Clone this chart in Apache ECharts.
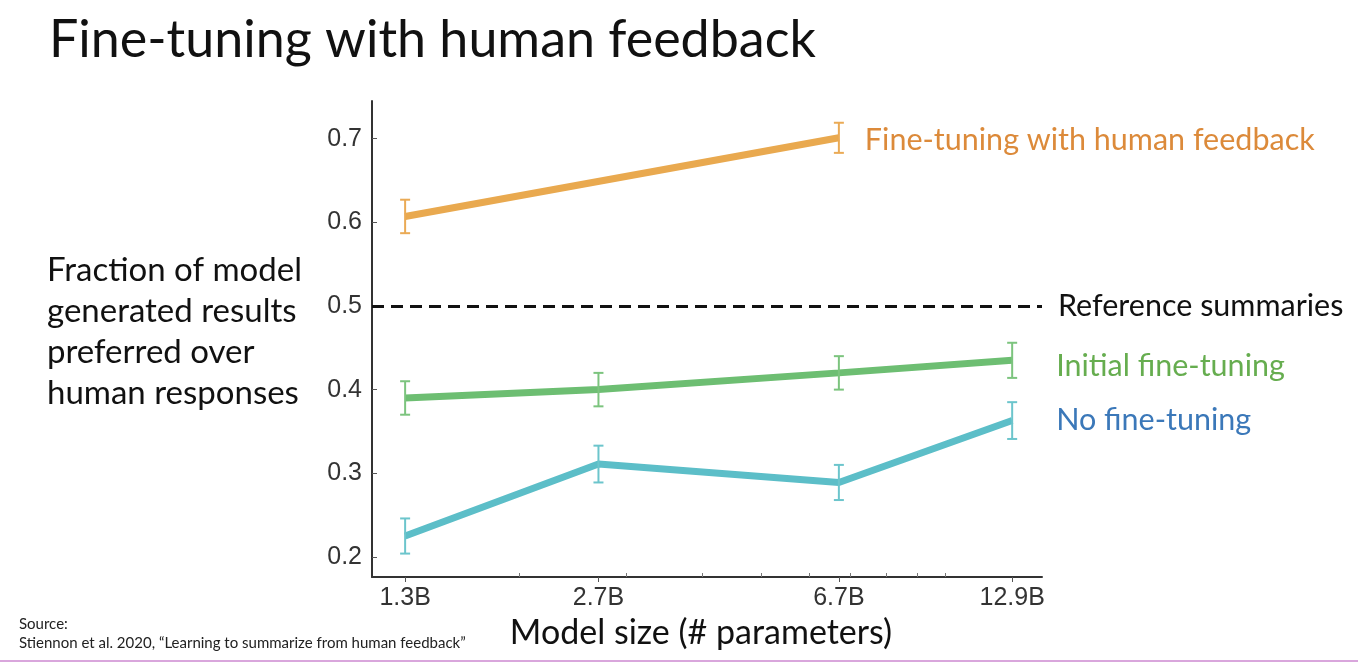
<!DOCTYPE html>
<html>
<head>
<meta charset="utf-8">
<script src="https://cdn.jsdelivr.net/npm/echarts@6/dist/echarts.min.js"></script>
<style>
  html, body { margin: 0; padding: 0; background: #fff; }
  #figure { width: 1358px; height: 664px; }
</style>
</head>
<body>
<div id="figure"></div>
<script>
// model sizes in billions of parameters
var sizes = [1.3, 2.7, 6.7, 12.9];
var sizeLabels = ['1.3B', '2.7B', '6.7B', '12.9B'];
var minorTicks = [2, 3, 4, 5, 6, 7, 8, 9, 10];
var yTicks = [0.2, 0.3, 0.4, 0.5, 0.6, 0.7];

var humanFeedbackSizes = [1.3, 6.7];
var humanFeedback = [0.607, 0.701];
var humanFeedbackErr = [0.02, 0.018];

var initialFT = [0.390, 0.400, 0.420, 0.435];
var initialFTErr = [0.02, 0.02, 0.02, 0.021];

var noFT = [0.225, 0.311, 0.289, 0.363];
var noFTErr = [0.021, 0.022, 0.021, 0.022];

var referenceValue = 0.5;

var labelFont = 'Lato, "Open Sans", sans-serif';
var tickFont = '"Liberation Sans Narrow", "Liberation Sans", Arial, sans-serif';

function pairs(xs, ys) {
    return xs.map(function(x, i) { return [x, ys[i]]; });
}
function errPairs(xs, ys, es) {
    return xs.map(function(x, i) { return [x, ys[i] - es[i], ys[i] + es[i]]; });
}

function errorBars(color) {
    return function(params, api) {
        var lo = api.coord([api.value(0), api.value(1)]);
        var hi = api.coord([api.value(0), api.value(2)]);
        var cap = 5;
        var style = { stroke: color, lineWidth: 2, fill: null };
        return {
            type: 'group',
            children: [
                { type: 'line', shape: { x1: lo[0], y1: lo[1], x2: hi[0], y2: hi[1] }, style: style },
                { type: 'line', shape: { x1: lo[0] - cap, y1: lo[1], x2: lo[0] + cap, y2: lo[1] }, style: style },
                { type: 'line', shape: { x1: hi[0] - cap, y1: hi[1], x2: hi[0] + cap, y2: hi[1] }, style: style }
            ]
        };
    };
}

var orange = '#e9a94f', green = '#6dbe72', teal = '#5cbec8';

var figure = echarts.init(document.getElementById('figure'));
var option = {
    animation: false,
    title: {
        text: 'Fine-tuning with human feedback',
        left: 44,
        top: 9,
        textStyle: { fontFamily: labelFont, fontSize: 52, fontWeight: 'normal', color: '#111' }
    },
    grid: { left: 372, right: 316, top: 101, bottom: 87 },
    xAxis: [{
        type: 'log',
        min: 1.147,
        max: 14.44,
        name: 'Model size (# parameters)',
        nameLocation: 'middle',
        nameGap: 34,
        nameTextStyle: { fontFamily: labelFont, fontSize: 34, color: '#111', padding: [0, 12, 0, 0] },
        axisLine: { lineStyle: { color: '#333', width: 2 } },
        axisTick: { customValues: sizes, length: 5, lineStyle: { color: '#555', width: 1 } },
        axisLabel: {
            customValues: sizes,
            margin: 9,
            fontFamily: tickFont,
            fontSize: 25,
            color: '#333',
            formatter: function(v) {
                var i = sizes.indexOf(Math.round(v * 10) / 10);
                return i >= 0 ? sizeLabels[i] : '';
            }
        },
        splitLine: { show: false }
    }, {
        type: 'log',
        min: 1.147,
        max: 14.44,
        position: 'bottom',
        axisLine: { show: false },
        axisTick: { customValues: minorTicks, inside: true, length: 4, lineStyle: { color: '#777', width: 1 } },
        axisLabel: { show: false },
        splitLine: { show: false }
    }],
    yAxis: {
        type: 'value',
        min: 0.176,
        max: 0.745,
        axisLine: { show: true, lineStyle: { color: '#333', width: 2 } },
        axisTick: { show: true, customValues: yTicks, inside: true, length: 5, lineStyle: { color: '#555' } },
        axisLabel: {
            customValues: yTicks,
            margin: 10,
            fontFamily: tickFont,
            fontSize: 25,
            color: '#333',
            formatter: function(v) { return v.toFixed(1); }
        },
        splitLine: { show: false }
    },
    graphic: [{
        type: 'text',
        left: 47,
        top: 250,
        style: {
            text: 'Fraction of model\ngenerated results\npreferred over\nhuman responses',
            font: '33px ' + labelFont,
            lineHeight: 41,
            fill: '#111'
        }
    }, {
        type: 'text',
        left: 19,
        top: 615,
        style: {
            text: 'Source:\nStiennon et al. 2020, \u201cLearning to summarize from human feedback\u201d',
            font: '15px ' + labelFont,
            lineHeight: 19,
            fill: '#222'
        }
    }, {
        type: 'rect',
        left: 0,
        top: 660,
        shape: { width: 1358, height: 2 },
        style: { fill: '#d9a6dc' }
    }],
    series: [{
        name: 'Reference summaries',
        type: 'line',
        data: [],
        markLine: {
            silent: true,
            symbol: ['none', 'none'],
            lineStyle: { color: '#111', type: [12, 7], width: 3 },
            label: {
                show: true,
                position: 'end',
                distance: 16,
                formatter: 'Reference summaries',
                fontFamily: labelFont,
                fontSize: 30.5,
                color: '#111'
            },
            data: [{ yAxis: referenceValue }]
        }
    }, {
        name: 'Fine-tuning with human feedback',
        type: 'line',
        data: pairs(humanFeedbackSizes, humanFeedback),
        showSymbol: false,
        lineStyle: { color: orange, width: 7 },
        itemStyle: { color: orange },
        endLabel: {
            show: true,
            formatter: 'Fine-tuning with human feedback',
            distance: 26,
            offset: [0, 2],
            fontFamily: labelFont,
            fontSize: 30.5,
            color: '#dc8a3a'
        },
        z: 3
    }, {
        name: 'Initial fine-tuning',
        type: 'line',
        data: pairs(sizes, initialFT),
        showSymbol: false,
        lineStyle: { color: green, width: 7 },
        itemStyle: { color: green },
        endLabel: {
            show: true,
            formatter: 'Initial fine-tuning',
            distance: 44,
            offset: [0, 6],
            fontFamily: labelFont,
            fontSize: 30.5,
            color: '#66ad4f'
        },
        z: 3
    }, {
        name: 'No fine-tuning',
        type: 'line',
        data: pairs(sizes, noFT),
        showSymbol: false,
        lineStyle: { color: teal, width: 7 },
        itemStyle: { color: teal },
        endLabel: {
            show: true,
            formatter: 'No fine-tuning',
            distance: 44,
            fontFamily: labelFont,
            fontSize: 30.5,
            color: '#3b78b9'
        },
        z: 3
    }, {
        type: 'custom',
        renderItem: errorBars('#eaaa55'),
        data: errPairs(humanFeedbackSizes, humanFeedback, humanFeedbackErr),
        encode: { x: 0, y: [1, 2] },
        z: 4
    }, {
        type: 'custom',
        renderItem: errorBars('#7cc47e'),
        data: errPairs(sizes, initialFT, initialFTErr),
        encode: { x: 0, y: [1, 2] },
        z: 4
    }, {
        type: 'custom',
        renderItem: errorBars('#6cc5cc'),
        data: errPairs(sizes, noFT, noFTErr),
        encode: { x: 0, y: [1, 2] },
        z: 4
    }]
};

figure.setOption(option);
</script>
</body>
</html>
